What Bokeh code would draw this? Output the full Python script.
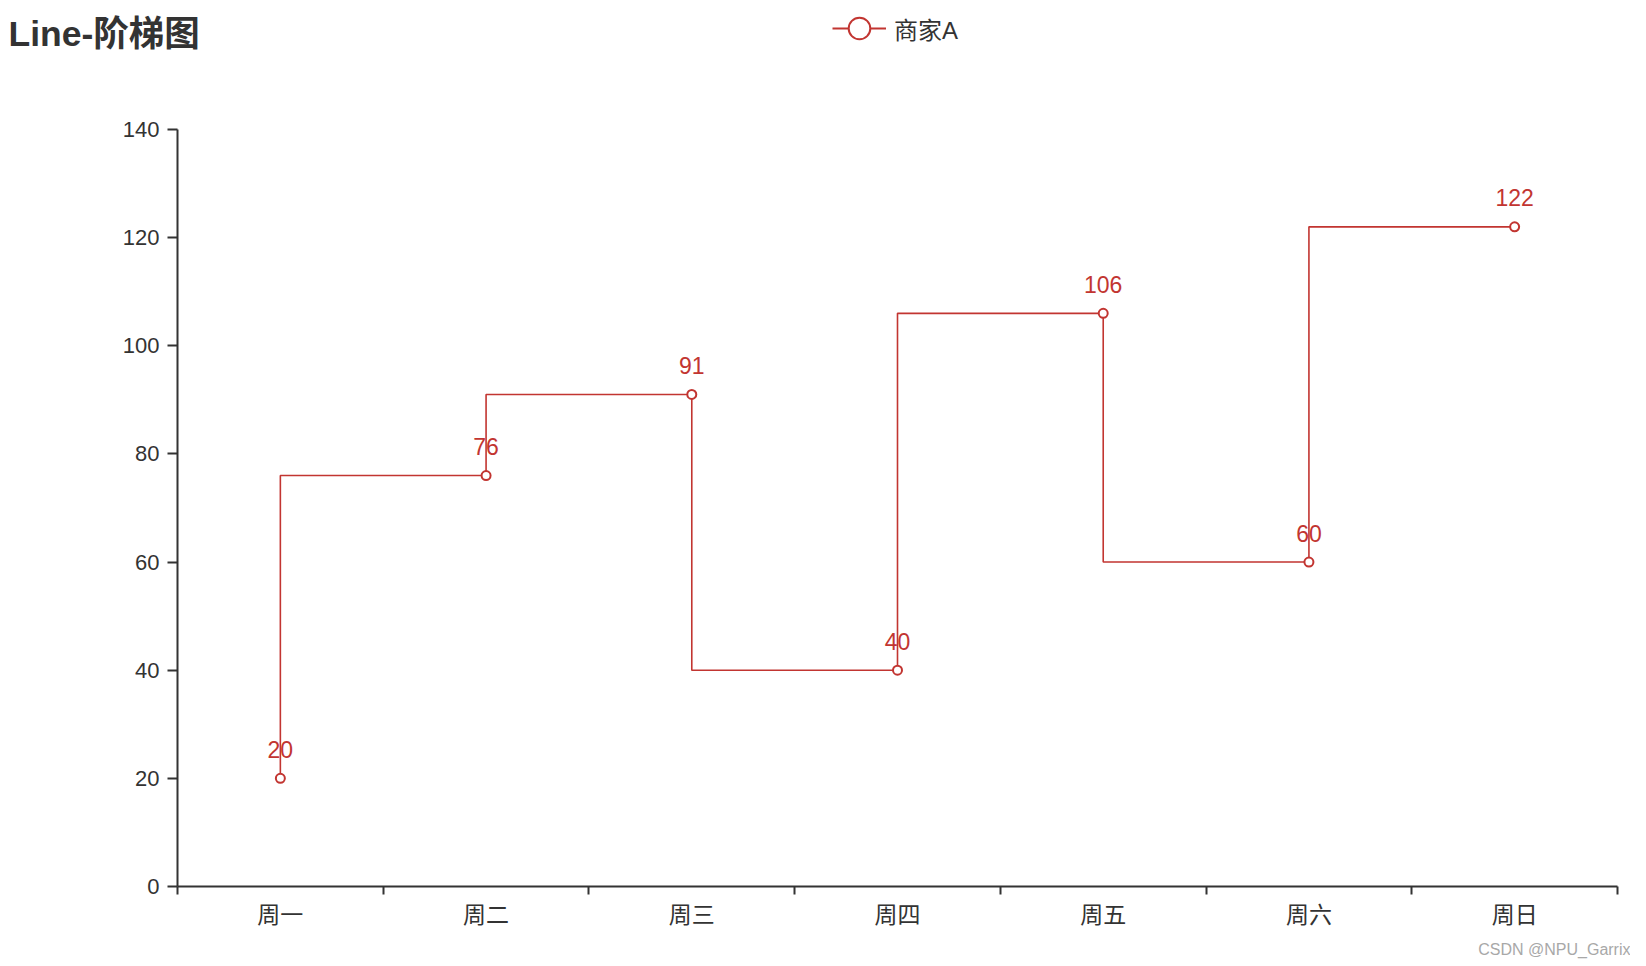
from bokeh.plotting import figure
from bokeh.models import (Range1d, FixedTicker, Label, Legend, LegendItem)
from bokeh.core.properties import value
from bokeh.embed import file_html
from bokeh.resources import INLINE

# ---- data ----
days = ["周一", "周二", "周三", "周四", "周五", "周六", "周日"]
sales_a = [20, 76, 91, 40, 106, 60, 122]
y_ticks = [0, 20, 40, 60, 80, 100, 120, 140]
series_name = "商家A"
title_text = "Line-阶梯图"
watermark = "CSDN @NPU_Garrix"

RED = "#c23531"
DARK = "#333333"
FONT = "Liberation Sans, Noto Sans CJK SC"

W = 1630
HEAD_H = 68
FOOT_H = 36
MAIN_H = 950 - HEAD_H - 20

xs = list(range(len(days)))
x_centers = [float(i) for i in xs]
x_bounds = [i - 0.5 for i in range(len(days) + 1)]


def blank(height):
    # a plain strip whose frame is the whole strip; its ranges lie away from the data
    f = figure(width=W, height=height, output_backend="svg", toolbar_location=None,
               x_range=Range1d(100, 101), y_range=Range1d(1000, 1001),
               x_axis_location=None, y_axis_location=None,
               min_border=0, min_border_left=0, min_border_right=0,
               min_border_top=0, min_border_bottom=0)
    f.title.visible = False
    f.outline_line_color = None
    f.xgrid.visible = False
    f.ygrid.visible = False
    return f


# ---- header: title + legend ----
head = blank(HEAD_H)
head.add_layout(Label(x=8, y=HEAD_H - 33, x_units="screen", y_units="screen",
                      text=title_text, text_font=FONT, text_font_size="35.5px",
                      text_font_style="bold", text_color=DARK,
                      text_align="left", text_baseline="middle"))
leg_line = head.line(xs, sales_a, line_color=RED, line_width=2)
leg_pt = head.scatter(xs, sales_a, marker="circle", size=22, fill_color="white",
                      line_color=RED, line_width=2)
legend = Legend(items=[LegendItem(label=series_name, renderers=[leg_line, leg_pt])],
                location=(832, HEAD_H - 28 - 28), orientation="horizontal",
                glyph_width=54, glyph_height=56, padding=0, margin=0, spacing=0,
                label_standoff=8, label_text_font_size="24px", label_text_color=DARK,
                label_text_font=FONT, border_line_alpha=0, background_fill_alpha=0)
head.add_layout(legend, "center")

# ---- main chart ----
p = figure(width=W, height=MAIN_H, output_backend="svg", toolbar_location=None,
           x_range=Range1d(-0.5, len(days) - 0.5), y_range=Range1d(y_ticks[0], y_ticks[-1]),
           min_border_left=177, min_border_right=13,
           min_border_top=129 - HEAD_H, min_border_bottom=MAIN_H + HEAD_H - 888)
p.title.visible = False
p.outline_line_color = None
p.xgrid.visible = False
p.ygrid.visible = False

p.yaxis.ticker = FixedTicker(ticks=y_ticks, minor_ticks=[])
p.xaxis.ticker = FixedTicker(ticks=x_centers, minor_ticks=x_bounds)
p.xaxis.major_label_overrides = {float(i): d for i, d in zip(xs, days)}
for ax in (p.xaxis[0], p.yaxis[0]):
    ax.axis_line_color = DARK
    ax.axis_line_width = 2
    ax.major_tick_line_color = DARK
    ax.major_tick_line_width = 2
    ax.minor_tick_line_color = DARK
    ax.minor_tick_line_width = 2
    ax.major_label_text_color = DARK
    ax.major_label_text_font = FONT
    ax.major_tick_in = 0
    ax.minor_tick_in = 0
p.yaxis.major_tick_out = 10
p.yaxis.minor_tick_out = 0
p.yaxis.major_label_standoff = 8
p.yaxis.major_label_text_font_size = "22px"
p.xaxis.major_tick_out = 0
p.xaxis.minor_tick_out = 8
p.xaxis.major_label_standoff = 7
p.xaxis.major_label_text_font_size = "23px"

p.step(xs, sales_a, mode="before", line_color=RED, line_width=1.6)
p.scatter(xs, sales_a, size=9, marker="circle", fill_color="white",
          line_color=RED, line_width=2)
p.text(xs, sales_a, text=[str(v) for v in sales_a], y_offset=-29,
       text_align="center", text_baseline="middle", text_color=RED,
       text_font=value(FONT), text_font_size="23px")

# ---- footer: watermark ----
foot = blank(FOOT_H)
foot.add_layout(Label(x=W, y=FOOT_H - 19, x_units="screen", y_units="screen",
                      text=watermark, text_font=FONT, text_font_size="16px",
                      text_color="#a8a8a8", text_align="right", text_baseline="middle"))

# separate roots, stacked by the page itself (no frame alignment between them)
open("out.html", "w").write(file_html([head, p, foot], INLINE))
